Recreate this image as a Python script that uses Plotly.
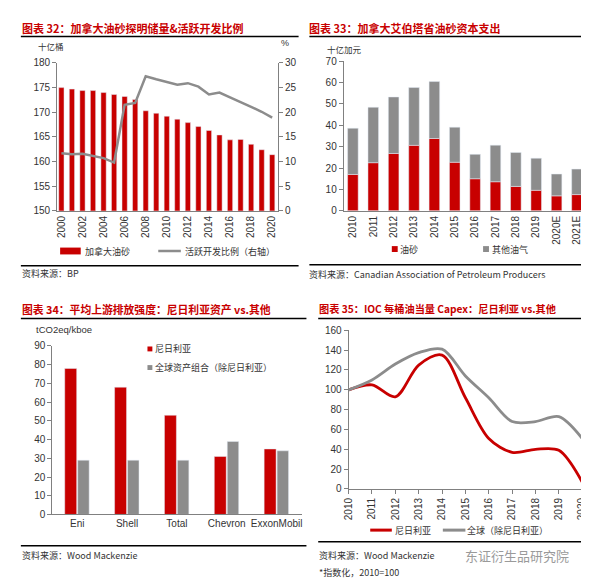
import plotly.graph_objects as go

W, H = 589, 581

# ---------- Data ----------
years1 = list(range(2000, 2021))
reserves = [175.0, 174.7, 174.4, 174.4, 174.0, 173.6, 173.2, 172.6, 170.3, 169.8, 169.2,
            168.6, 167.9, 167.1, 166.3, 165.4, 164.4, 164.5, 163.5, 162.4, 161.4]
active_pct = [11.7, 11.5, 11.6, 11.1, 10.7, 9.8, 21.5, 21.9, 27.3, 26.7, 26.1,
              25.6, 25.9, 25.2, 23.6, 24.0, 23.0, 22.1, 21.1, 20.1, 18.9]

years2 = ["2010", "2011", "2012", "2013", "2014", "2015", "2016", "2017", "2018", "2019", "2020E", "2021E"]
oil_sands = [17.0, 22.5, 26.8, 30.6, 33.8, 22.7, 15.0, 13.6, 11.4, 9.6, 7.0, 7.6]
other_og = [21.6, 25.9, 26.4, 27.0, 26.6, 16.4, 11.4, 17.1, 15.9, 15.0, 10.2, 11.9]

companies = ["Eni", "Shell", "Total", "Chevron", "ExxonMobil"]
nigeria_int = [78, 68, 53, 31, 35]
global_int = [29, 29, 29, 39, 34]

years4 = list(range(2010, 2021))
nigeria_capex = [100, 105, 93, 125, 135, 92, 51, 37, 40, 39, 7]
global_capex = [100, 110, 126, 137.5, 141, 114, 92, 68, 68, 73, 51]

RED = "#c80000"
GRAY = "#8c8c8c"
AX = "#808080"
CJK = "Noto Sans CJK SC"
NUM = "Liberation Sans"

def px_x(x):
    return x / W

def px_y(y):
    return 1 - y / H

fig = go.Figure()

# Panel 1
fig.add_trace(go.Bar(x=years1, y=reserves, marker_color=RED, width=0.5, name="加拿大油砂",
                     xaxis="x", yaxis="y", showlegend=False))
fig.add_trace(go.Scatter(x=years1, y=active_pct, mode="lines", line=dict(color=GRAY, width=2.5),
                         name="活跃开发比例（右轴）", xaxis="x", yaxis="y2", showlegend=False))

# Panel 2 (stacked)
fig.add_trace(go.Bar(x=years2, y=oil_sands, marker_color=RED, width=0.52, name="油砂",
                     xaxis="x2", yaxis="y3", showlegend=False))
fig.add_trace(go.Bar(x=years2, y=other_og, marker_color=GRAY, width=0.52, name="其他油气",
                     xaxis="x2", yaxis="y3", showlegend=False))

# Panel 3 (side by side)
fig.add_trace(go.Bar(x=companies, y=nigeria_int, marker_color=RED, name="尼日利亚",
                     xaxis="x3", yaxis="y4", showlegend=False, offsetgroup="a"))
fig.add_trace(go.Bar(x=companies, y=global_int, marker_color=GRAY, name="全球资产组合（除尼日利亚）",
                     xaxis="x3", yaxis="y4", showlegend=False, offsetgroup="b"))
fig.data[4].update(offset=-0.25, width=0.24)
fig.data[5].update(offset=0.01, width=0.23)

# Panel 4
fig.add_trace(go.Scatter(x=years4, y=nigeria_capex, mode="lines",
                         line=dict(color=RED, width=2.8, shape="spline", smoothing=0.9),
                         name="尼日利亚", xaxis="x4", yaxis="y5", showlegend=False))
fig.add_trace(go.Scatter(x=years4, y=global_capex, mode="lines",
                         line=dict(color=GRAY, width=2.8, shape="spline", smoothing=0.9),
                         name="全球（除尼日利亚）", xaxis="x4", yaxis="y5", showlegend=False))

tickfont = dict(family=NUM, size=10, color="#333333")
common_y = dict(showgrid=False, zeroline=False, showline=True, linecolor=AX, linewidth=1,
                ticks="outside", ticklen=4, tickcolor=AX, tickfont=tickfont)
common_x = dict(showgrid=False, zeroline=False, showline=True, linecolor=AX, linewidth=1,
                tickfont=tickfont)

fig.update_layout(
    width=W, height=H, margin=dict(l=0, r=0, t=0, b=0),
    paper_bgcolor="white", plot_bgcolor="white", barmode="relative",
    xaxis=dict(domain=[px_x(44), px_x(269)], anchor="y", range=[1999.6, 2020.55],
               tickvals=list(range(2000, 2021, 2)), tickangle=-90, ticks="", **common_x),
    yaxis=dict(domain=[px_y(201), px_y(50)], anchor="x", range=[150, 180], dtick=5, **common_y),
    yaxis2=dict(overlaying="y", side="right", anchor="x", range=[0, 30], dtick=5, **common_y),
    xaxis2=dict(domain=[px_x(336), px_x(583)], anchor="y3", type="category", range=[-0.45, 11.45],
                tickangle=-90, ticks="", **common_x),
    yaxis3=dict(domain=[px_y(201), px_y(48)], anchor="x2", range=[0, 70], dtick=10, **common_y),
    xaxis3=dict(domain=[px_x(39), px_x(293)], anchor="y4", type="category", range=[-0.5, 4.5],
                ticks="", **common_x),
    yaxis4=dict(domain=[px_y(511), px_y(339)], anchor="x3", range=[0, 90], dtick=10, **common_y),
    xaxis4=dict(domain=[px_x(341), px_x(579)], anchor="y5", range=[2010, 2020], dtick=1,
                tickangle=-90, ticks="outside", ticklen=4, tickcolor=AX, **common_x),
    yaxis5=dict(domain=[px_y(485), px_y(323)], anchor="x4", range=[0, 160], dtick=20, **common_y),
)

anns = []

def ann(x, y, text, size=9, color="#333333", family=CJK, xanchor="left", yanchor="middle"):
    anns.append(dict(x=px_x(x), y=px_y(y), xref="paper", yref="paper", text=text, showarrow=False,
                     xanchor=xanchor, yanchor=yanchor, font=dict(size=size, color=color, family=family)))

# titles
ann(6, 14, "<b>图表 32：加拿大油砂探明储量&活跃开发比例</b>", size=11, color=RED)
ann(299, 14, "<b>图表 33：加拿大艾伯塔省油砂资本支出</b>", size=11, color=RED)
ann(6, 301, "<b>图表 34：平均上游排放强度：尼日利亚资产 vs.其他</b>", size=10.8, color=RED)
ann(309, 301, "<b>图表 35：IOC 每桶油当量 Capex：尼日利亚 vs.其他</b>", size=10.2, color=RED)

# units
ann(22, 33, "十亿桶", size=8.5)
ann(276, 30, "%", size=9, family=NUM, xanchor="center")
ann(317, 36, "十亿加元", size=8.5)
ann(20, 322, "tCO2eq/kboe", size=9.5, family=NUM)

# sources
ann(6, 265, "资料来源：BP", size=9)
ann(299, 266, "资料来源：Canadian Association of Petroleum Producers", size=9)
ann(6, 553, "资料来源：Wood Mackenzie", size=9)
ann(309, 553, "资料来源：Wood Mackenzie", size=9)
ann(309, 570, "*指数化，2010=100", size=9)
ann(458, 553, "东证衍生品研究院", size=13, color="#9a9a9a")

# legends text
ann(70, 242, "加拿大油砂", size=9)
ann(172, 242, "活跃开发比例（右轴）", size=9)
ann(391, 240, "油砂", size=9)
ann(485, 240, "其他油气", size=9)
ann(142, 342, "尼日利亚", size=9)
ann(142, 361, "全球资产组合（除尼日利亚）", size=9)
ann(386, 527, "尼日利亚", size=9)
ann(460, 527, "全球（除尼日利亚）", size=9)

fig.update_layout(annotations=anns)

shapes = []

def hline(x0, x1, y, color="black", width=1.5):
    shapes.append(dict(type="line", xref="paper", yref="paper", x0=px_x(x0), x1=px_x(x1),
                       y0=px_y(y), y1=px_y(y), line=dict(color=color, width=width)))

def rect(x0, x1, y0, y1, color):
    shapes.append(dict(type="rect", xref="paper", yref="paper", x0=px_x(x0), x1=px_x(x1),
                       y0=px_y(y0), y1=px_y(y1), fillcolor=color, line=dict(width=0)))

hline(7, 290, 23)
hline(301, 587, 23)
hline(7, 290, 257)
hline(301, 587, 256)
hline(7, 298, 311)
hline(310, 587, 311)
hline(7, 298, 543)
hline(310, 587, 539)

# legend symbols
rect(47, 68, 238.5, 245.5, RED)
hline(147, 170, 242, GRAY, 2.5)
rect(385, 391, 237, 243, RED)
rect(478, 484, 237, 243, GRAY)
rect(136, 141, 339.5, 344.5, RED)
rect(136, 141, 358.5, 363.5, GRAY)
hline(363, 385, 527, RED, 3)
hline(437, 460, 527, GRAY, 3)

fig.update_layout(shapes=shapes)

fig.write_html("out.html")
